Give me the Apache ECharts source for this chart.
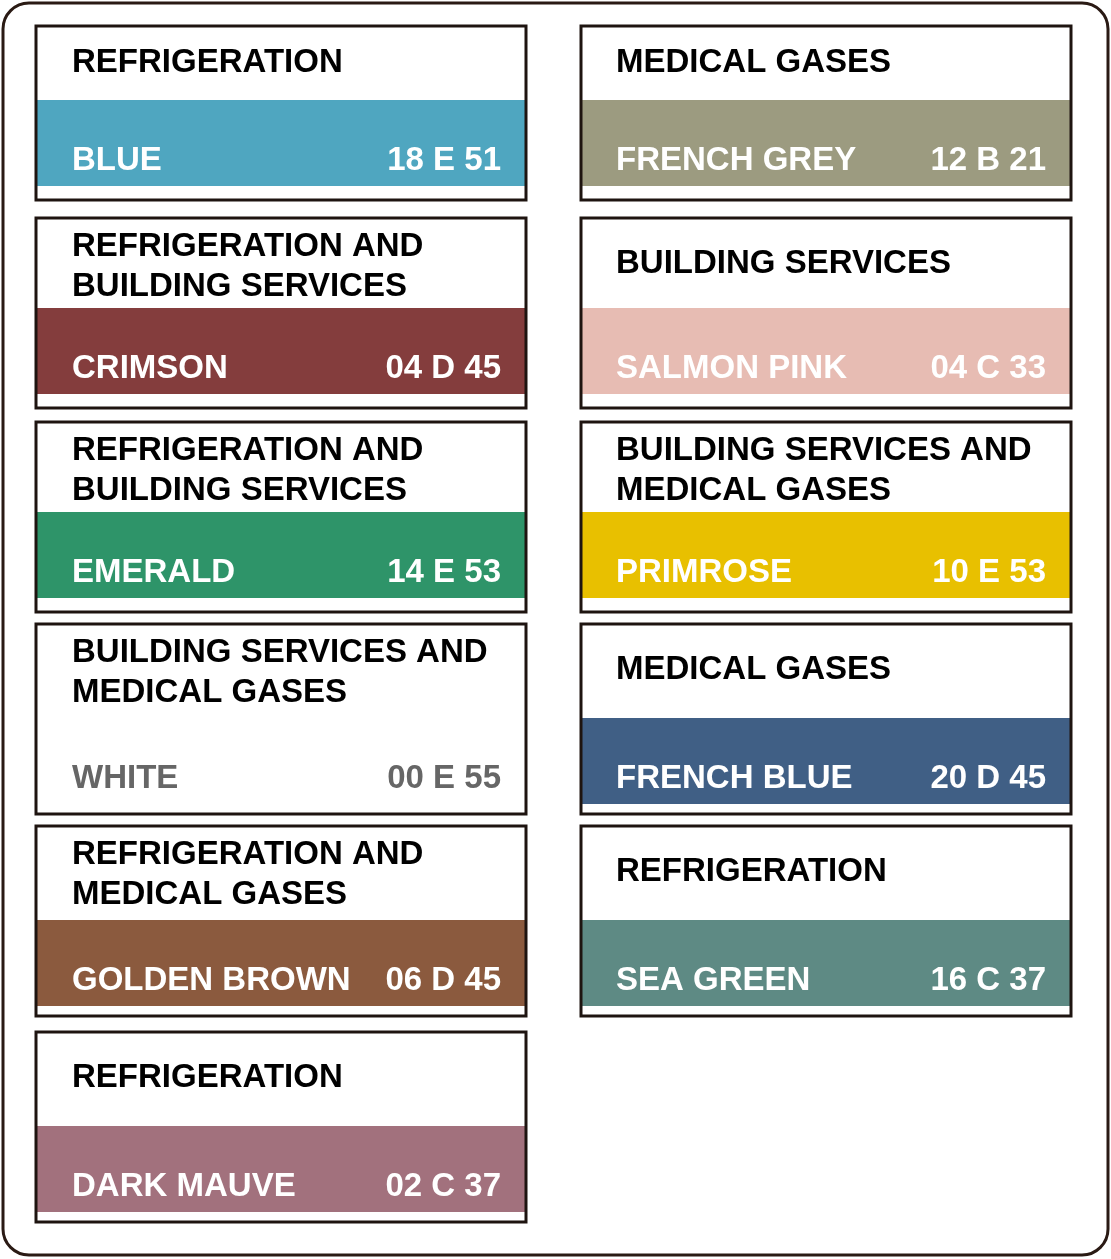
<!DOCTYPE html>
<html><head><meta charset="utf-8">
<script src="https://cdn.jsdelivr.net/npm/echarts@6/dist/echarts.min.js"></script>
<style>html,body{margin:0;padding:0;background:#fff}#c{width:1111px;height:1259px}</style>
</head><body><div id="c"></div>
<script>
var titles = [
  ["REFRIGERATION"],
  ["REFRIGERATION AND","BUILDING SERVICES"],
  ["REFRIGERATION AND","BUILDING SERVICES"],
  ["BUILDING SERVICES AND","MEDICAL GASES"],
  ["REFRIGERATION AND","MEDICAL GASES"],
  ["REFRIGERATION"],
  ["MEDICAL GASES"],
  ["BUILDING SERVICES"],
  ["BUILDING SERVICES AND","MEDICAL GASES"],
  ["MEDICAL GASES"],
  ["REFRIGERATION"]
];
var names = ["BLUE","CRIMSON","EMERALD","WHITE","GOLDEN BROWN","DARK MAUVE","FRENCH GREY","SALMON PINK","PRIMROSE","FRENCH BLUE","SEA GREEN"];
var codes = ["18 E 51","04 D 45","14 E 53","00 E 55","06 D 45","02 C 37","12 B 21","04 C 33","10 E 53","20 D 45","16 C 37"];
var colors = ["#4fa6c0","#843d3d","#2e9469","#ffffff","#8b5a3e","#a2717d","#9c9b80","#e7bcb3","#e8c000","#405f85","#5e8a84"];
var cols = [0,0,0,0,0,0,1,1,1,1,1];
var rows = [0,1,2,3,4,5,0,1,2,3,4];

var rowTop = [26,218,422,624,826,1032];
var bandOff = [74,90,90,94,94,94];
var colX = [36,581];
var font = 'bold 33px "Liberation Sans", Arial, sans-serif';

var chart = echarts.init(document.getElementById('c'));
chart.setOption({
  animation:false,
  grid:{left:0,right:0,top:0,bottom:0},
  xAxis:{type:'value',min:0,max:1111,show:false},
  yAxis:{type:'value',min:0,max:1259,inverse:true,show:false},
  graphic:[{type:'rect',shape:{x:3,y:3,width:1105,height:1252,r:26},style:{fill:'none',stroke:'#2a1a14',lineWidth:3}}],
  series:[{
    type:'custom',
    data:names.map(function(n,i){return [i];}),
    renderItem:function(params,api){
      var i = api.value(0);
      var r = rows[i], c = cols[i];
      var top = rowTop[r], x0 = colX[c];
      var h = r===0 ? 174 : 190;
      var bandTop = top+bandOff[r];
      var p0 = api.coord([x0,top]);
      var p1 = api.coord([x0+490,top+h]);
      var b0 = api.coord([x0,bandTop]);
      var b1 = api.coord([x0+490,bandTop+86]);
      var white = colors[i]==='#ffffff';
      var tc = white ? '#666666' : '#ffffff';
      var ch = [
        {type:'rect',shape:{x:b0[0],y:b0[1],width:b1[0]-b0[0],height:b1[1]-b0[1]},style:{fill:colors[i]}},
        {type:'rect',shape:{x:p0[0],y:p0[1],width:p1[0]-p0[0],height:p1[1]-p0[1]},style:{fill:'none',stroke:'#1e1410',lineWidth:3}}
      ];
      var tx = c===0 ? 72 : 616;
      var t = titles[i];
      var ys = t.length===1 ? [r===0?top+37:top+46] : [top+29,top+69];
      t.forEach(function(s,k){
        var p = api.coord([tx,ys[k]]);
        ch.push({type:'text',style:{text:s,x:p[0],y:p[1],font:font,fill:'#000',textVerticalAlign:'middle'}});
      });
      var ly = bandTop+61;
      var lp = api.coord([tx, ly]);
      var rp = api.coord([x0+465, ly]);
      ch.push({type:'text',style:{text:names[i],x:lp[0],y:lp[1],font:font,fill:tc,textVerticalAlign:'middle'}});
      ch.push({type:'text',style:{text:codes[i],x:rp[0],y:rp[1],font:font,fill:tc,textAlign:'right',textVerticalAlign:'middle'}});
      return {type:'group',children:ch};
    }
  }]
});
</script></body></html>
